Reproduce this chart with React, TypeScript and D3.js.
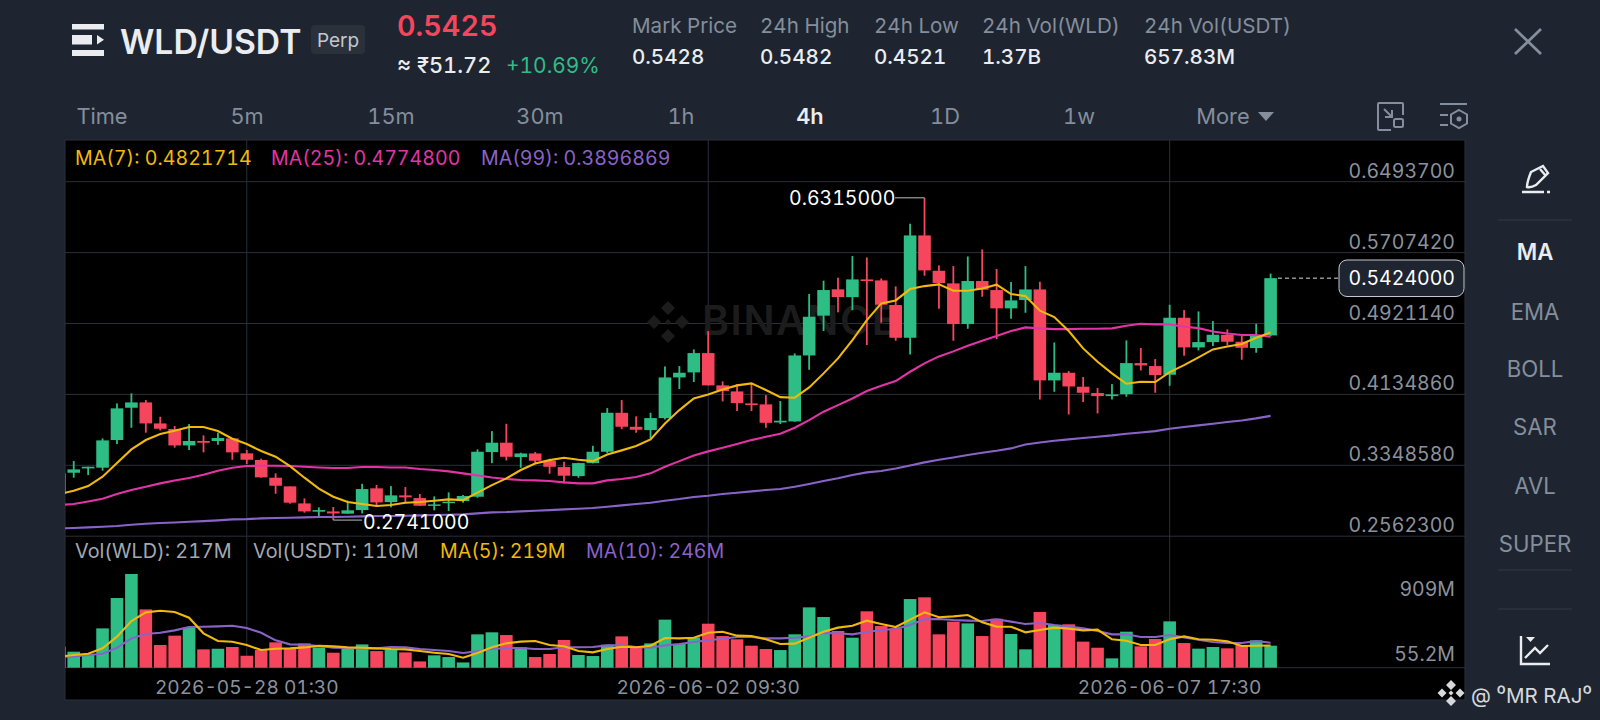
import * as d3 from "d3";

const FONT = "Inter, 'Noto Sans', sans-serif";
const BG = "#1e2530";
const UP = "#2ebd85";
const DOWN = "#f6465d";
const YELLOW = "#f0b90b";
const PINK = "#e234a6";
const PURPLE = "#8a63c9";
const MUTED = "#848e9c";
const GRID = "#2a2f3a";

const opens = [
  0.303, 0.3266, 0.3314, 0.3322, 0.3629, 0.3987, 0.4046, 0.3813, 0.3751, 0.3569, 0.3618,
  0.3618, 0.3647, 0.3481, 0.3407, 0.3211, 0.3115, 0.2926, 0.2834, 0.2837, 0.2812,
  0.2852, 0.3093, 0.2941, 0.3015, 0.2985, 0.29, 0.293, 0.2952, 0.3, 0.3495,
  0.3599, 0.344, 0.348, 0.3399, 0.3329, 0.3229, 0.3373, 0.3499, 0.3931, 0.3776,
  0.3739, 0.3872, 0.4323, 0.4379, 0.4593, 0.4235, 0.4168, 0.4035, 0.4024, 0.3824,
  0.3835, 0.4567, 0.5008, 0.53, 0.5214, 0.541, 0.5399, 0.5126, 0.4763, 0.5898,
  0.5506, 0.5366, 0.4915, 0.5392, 0.5292, 0.5089, 0.5181, 0.5299, 0.429, 0.4375,
  0.422, 0.415, 0.4116, 0.4138, 0.4482, 0.4449, 0.4353, 0.4985, 0.4656, 0.4715,
  0.4796, 0.4719, 0.4649, 0.4789,
];
const highs = [
  0.3259, 0.3396, 0.3333, 0.3647, 0.4035, 0.4146, 0.4072, 0.3887, 0.3784, 0.3806, 0.368,
  0.371, 0.3651, 0.3518, 0.3422, 0.3259, 0.3115, 0.2982, 0.2882, 0.2886, 0.2956,
  0.3144, 0.313, 0.3118, 0.3107, 0.303, 0.3004, 0.3048, 0.3019, 0.3525, 0.3728,
  0.3809, 0.3488, 0.3495, 0.3421, 0.3388, 0.3377, 0.3565, 0.3983, 0.4072, 0.3891,
  0.3931, 0.4445, 0.4449, 0.4634, 0.4837, 0.4279, 0.4249, 0.4257, 0.4127, 0.4061,
  0.4589, 0.5248, 0.5396, 0.5429, 0.5669, 0.5654, 0.5421, 0.5333, 0.6028, 0.6315,
  0.5565, 0.5558, 0.5665, 0.5743, 0.5525, 0.5381, 0.5558, 0.5384, 0.4711, 0.4394,
  0.4327, 0.4205, 0.4249, 0.4734, 0.4649, 0.4527, 0.5129, 0.507, 0.5055, 0.4948,
  0.4856, 0.4785, 0.4918, 0.5475,
];
const lows = [
  0.303, 0.3211, 0.324, 0.3289, 0.3584, 0.3765, 0.371, 0.3736, 0.3544, 0.3518, 0.3492,
  0.3577, 0.341, 0.3362, 0.3211, 0.3033, 0.2923, 0.2823, 0.2786, 0.2741, 0.2812,
  0.2815, 0.2908, 0.2882, 0.2926, 0.2897, 0.2849, 0.2841, 0.2934, 0.2989, 0.3373,
  0.3403, 0.3321, 0.3362, 0.3255, 0.3148, 0.3211, 0.3369, 0.3484, 0.375, 0.371,
  0.3647, 0.3857, 0.4194, 0.4272, 0.4235, 0.4057, 0.395, 0.395, 0.3765, 0.3806,
  0.3832, 0.4408, 0.4838, 0.5045, 0.507, 0.4682, 0.493, 0.473, 0.4578, 0.5451,
  0.5085, 0.473, 0.4863, 0.5218, 0.4748, 0.4974, 0.5041, 0.4079, 0.4164, 0.3913,
  0.405, 0.3924, 0.4079, 0.4109, 0.4401, 0.4153, 0.4231, 0.4564, 0.4623, 0.4671,
  0.4678, 0.4519, 0.4597, 0.4782,
];
const closes = [
  0.3259, 0.3303, 0.3333, 0.3625, 0.398, 0.4046, 0.3813, 0.3754, 0.3569, 0.3618, 0.3599,
  0.3651, 0.3492, 0.341, 0.3215, 0.3122, 0.2934, 0.2837, 0.2852, 0.2815, 0.2849,
  0.3085, 0.2937, 0.3015, 0.2993, 0.29, 0.2915, 0.2945, 0.3008, 0.3499, 0.3599,
  0.3443, 0.348, 0.3399, 0.3332, 0.3233, 0.3373, 0.3499, 0.3931, 0.3776, 0.3743,
  0.3872, 0.4323, 0.4375, 0.4593, 0.4235, 0.4172, 0.4039, 0.4016, 0.382, 0.3843,
  0.4567, 0.4996, 0.5292, 0.5215, 0.541, 0.5392, 0.5129, 0.4763, 0.5898, 0.551,
  0.537, 0.4915, 0.5392, 0.5296, 0.5089, 0.5177, 0.5299, 0.429, 0.4375, 0.4223,
  0.4153, 0.4116, 0.4135, 0.4482, 0.4456, 0.4349, 0.4985, 0.4656, 0.4715, 0.4796,
  0.4719, 0.4652, 0.4789, 0.5424,
];
const ma7 = [
  0.303, 0.3067, 0.3118, 0.3222, 0.3374, 0.3525, 0.3629, 0.3695, 0.3732, 0.3773,
  0.3773, 0.3728, 0.3643, 0.3584, 0.3507, 0.3444, 0.334, 0.3211, 0.3089, 0.3,
  0.2941, 0.2919, 0.2897, 0.2908, 0.2934, 0.2941, 0.2956, 0.2971, 0.2963, 0.3045,
  0.3129, 0.3203, 0.3296, 0.3369, 0.3406, 0.3432, 0.341, 0.3395, 0.3469, 0.3514,
  0.3562, 0.3636, 0.3813, 0.3961, 0.409, 0.4135, 0.419, 0.4235, 0.4257, 0.4183,
  0.4105, 0.4098, 0.4212, 0.4368, 0.4534, 0.4737, 0.4959,
  0.5144, 0.5177, 0.5303, 0.5336, 0.5355, 0.5285, 0.5285, 0.531, 0.5351, 0.5248,
  0.5225, 0.5063, 0.4992, 0.4837, 0.4645, 0.4497, 0.4368, 0.4253, 0.4275, 0.4272,
  0.4382, 0.446, 0.4545, 0.4634, 0.4667, 0.4693, 0.4763, 0.4822,
];
const ma25 = [
  0.2908, 0.2919, 0.2948, 0.2978, 0.303, 0.3074, 0.3111, 0.3148, 0.3181, 0.3207,
  0.3244, 0.3289, 0.3322, 0.334, 0.3344, 0.3344, 0.334, 0.3333, 0.3325, 0.3318,
  0.3318, 0.3329, 0.3329, 0.3325, 0.3325, 0.3307, 0.3296, 0.3281, 0.3259, 0.3237,
  0.3214, 0.3196, 0.3185, 0.3181, 0.3174, 0.3159, 0.3148, 0.3148, 0.3181, 0.3196,
  0.3218, 0.3259, 0.3332, 0.3395, 0.3458, 0.3503, 0.3543, 0.3584, 0.3628, 0.3665,
  0.3698, 0.3765, 0.385, 0.3943, 0.4016, 0.409, 0.4172,
  0.4231, 0.4283, 0.4386, 0.4479, 0.4556, 0.4612, 0.4675, 0.473, 0.4782, 0.4837,
  0.4878, 0.4867, 0.4859, 0.4859, 0.4863, 0.4863, 0.4867, 0.4896, 0.4918, 0.4911,
  0.4911, 0.4885, 0.487, 0.4833, 0.4811, 0.4793, 0.4793, 0.4775,
];
const ma99 = [
  0.2649, 0.2653, 0.266, 0.2667, 0.2675, 0.269, 0.2701, 0.2708, 0.2715, 0.2723,
  0.273, 0.2738, 0.2749, 0.2752, 0.276, 0.2764, 0.2767, 0.2771, 0.2775, 0.2775,
  0.2778, 0.2782, 0.2786, 0.2786, 0.2789, 0.2793, 0.2797, 0.28, 0.2804, 0.2815,
  0.2826, 0.283, 0.2838, 0.2845, 0.2852, 0.286, 0.2867, 0.2875, 0.2889, 0.2904,
  0.2919, 0.2934, 0.2956, 0.2974, 0.2997, 0.3011, 0.303, 0.3045, 0.3059, 0.3074,
  0.3085, 0.3111, 0.3141, 0.3174, 0.3204, 0.3241, 0.327,
  0.3285, 0.3314, 0.3347, 0.3381, 0.341, 0.3436, 0.3462, 0.3488, 0.351, 0.3536,
  0.358, 0.3602, 0.3621, 0.3636, 0.3651, 0.3665, 0.368, 0.3699, 0.3713, 0.3728,
  0.3754, 0.3773, 0.3791, 0.381, 0.3828, 0.3846, 0.3869, 0.3897,
];
// volume in millions
const volumes = [
  207, 158, 132, 388, 687, 924, 575, 224, 316, 394, 181, 187, 204, 118, 174, 250, 191, 240, 200, 148,
  187, 230, 164, 181, 151, 62, 122, 105, 52, 329, 349, 322, 201, 105, 135, 273, 125, 115, 227, 309,
  207, 240, 474, 234, 299, 434, 312, 280, 217, 184, 174, 329, 595, 500, 362, 296, 556, 411, 388, 677,
  694, 329, 454, 437, 312, 483, 332, 181, 549, 421, 428, 257, 197, 92, 355, 211, 283, 457, 243, 188,
  204, 191, 224, 270, 217,
];
const volMa5 = [
  108, 125, 138, 191, 306, 460, 546, 562, 549, 493, 339, 263, 256, 223, 174, 187, 191, 200, 217, 210,
  200, 197, 191, 184, 181, 164, 148, 135, 99, 146, 201, 240, 257, 263, 224, 211, 165, 151, 184, 207,
  201, 217, 293, 289, 296, 345, 355, 316, 312, 280, 234, 237, 296, 355, 395, 414, 464, 431, 401, 474,
  546, 497, 506, 520, 447, 405, 404, 349, 372, 395, 385, 368, 375, 280, 266, 224, 224, 280, 309, 280,
  276, 260, 214, 217, 219,
];
const volMa10 = [
  105, 112, 125, 138, 197, 289, 332, 345, 368, 401, 404, 408, 414, 391, 345, 270, 230, 227, 214, 197,
  194, 191, 191, 204, 200, 184, 174, 164, 145, 163, 184, 194, 194, 184, 184, 201, 201, 204, 220, 220,
  204, 197, 220, 234, 253, 270, 286, 303, 303, 289, 289, 296, 309, 342, 339, 329, 352, 372, 382, 421,
  477, 480, 470, 464, 460, 477, 454, 431, 441, 421, 405, 388, 362, 329, 329, 303, 303, 322, 299, 276,
  253, 243, 243, 263, 246,
];

const priceTicks = ["0.6493700", "0.5707420", "0.4921140", "0.4134860", "0.3348580", "0.2562300"];
const volTicks = ["909M", "55.2M"];
const timeTicks = [
  { index: 13, label: "2026-05-28 01:30" },
  { index: 45, label: "2026-06-02 09:30" },
  { index: 77, label: "2026-06-07 17:30" },
];
const tabs = ["Time", "5m", "15m", "30m", "1h", "4h", "1D", "1w", "More"];
const tabX = [102, 247, 391, 540, 681, 810, 945, 1079, 1223];
const stats = [
  ["Mark Price", "0.5428"],
  ["24h High", "0.5482"],
  ["24h Low", "0.4521"],
  ["24h Vol(WLD)", "1.37B"],
  ["24h Vol(USDT)", "657.83M"],
];
const statX = [632, 760, 874, 982, 1144];
const sideItems = ["MA", "EMA", "BOLL", "SAR", "AVL", "SUPER"];
const sideY = [251, 311, 368, 426, 485, 543];

const LEFT = 65;
const RIGHT = 1465;
const TOP = 140;
const BOTTOM = 700;
const VOL_BASE = 667.7;

const x = d3.scaleLinear().domain([0, 84]).range([59.3, 1270.6]);
const y = d3.scaleLinear().domain([0.64937, 0.25623]).range([181.7, 536.2]);
const yVol = d3.scaleLinear().domain([0, 924]).range([VOL_BASE, 574]);

const priceLine = d3.line<number>().x((_, i) => x(i)).y((d) => y(d));
const volLine = d3.line<number>().x((_, i) => x(i)).y((d) => yVol(d));

const BODY_W = 12.6;
const WICK_W = 1.8;
const LINE_W = 2.1;

function Label(props: any) {
  return (
    <text
      fontFamily={FONT}
      dominantBaseline="central"
      style={{ fontVariantNumeric: "tabular-nums" }}
      {...props}
    />
  );
}

export default function App() {
  const lastY = y(closes[closes.length - 1]);
  const hiIdx = highs.indexOf(d3.max(highs)!);
  const loIdx = lows.indexOf(d3.min(lows)!);

  return (
    <svg
      width={1600}
      height={720}
      viewBox="0 0 1600 720"
      style={{ position: "absolute", left: 0, top: 0, display: "block" }}
    >
      <defs>
        <clipPath id="plot">
          <rect x={LEFT} y={TOP} width={RIGHT - LEFT} height={BOTTOM - TOP} />
        </clipPath>
      </defs>
      <rect width={1600} height={720} fill={BG} />

      {/* header */}
      <g fill="#eaecef">
        <rect x={72} y={24} width={32} height={5.5} />
        <rect x={72} y={35} width={20} height={9.5} />
        <path d="M97 35 L104 39.7 L97 44.5 Z" />
        <rect x={72} y={50} width={32} height={6} />
      </g>
      <Label x={120} y={41} fill="#eaecef" fontSize={33.7} fontWeight={600}>WLD/USDT</Label>
      <rect x={311} y={25} width={54} height={29} rx={4} fill="#2b313b" />
      <Label x={338} y={40} fill="#c4c8ce" fontSize={19} textAnchor="middle">Perp</Label>
      <Label x={397} y={25} fill={DOWN} fontSize={28.7} fontWeight={600}>0.5425</Label>
      <Label x={397} y={65} fill="#eaecef" fontSize={21.8} fontWeight={500}>≈ ₹51.72</Label>
      <Label x={506} y={65} fill={UP} fontSize={20.9}>+10.69%</Label>
      {stats.map(([name, value], i) => (
        <g key={name}>
          <Label x={statX[i]} y={25} fill={MUTED} fontSize={20.6}>{name}</Label>
          <Label x={statX[i]} y={56} fill="#eaecef" fontSize={20.6} fontWeight={500}>{value}</Label>
        </g>
      ))}
      <path d="M1515 29 L1541 54 M1541 29 L1515 54" stroke={MUTED} strokeWidth={2.8} fill="none" />

      {/* interval tabs */}
      {tabs.map((t, i) => (
        <Label
          key={t}
          x={tabX[i]}
          y={116}
          fill={t === "4h" ? "#eaecef" : MUTED}
          fontWeight={t === "4h" ? 600 : 400}
          fontSize={21.8}
          textAnchor="middle"
        >
          {t}
        </Label>
      ))}
      <path d="M1258 112 L1274 112 L1266 121 Z" fill={MUTED} />
      <g fill="none" stroke={MUTED} strokeWidth={2}>
        <path d="M1391 130 H1379 Q1378 130 1378 129 V104 Q1378 103 1379 103 H1402 Q1403 103 1403 104 V115" />
        <rect x={1394} y={119} width={9} height={8} rx={1.5} />
        <path d="M1384 109 L1392 117 M1392 110 V117 H1385" />
        <path d="M1440 104 H1467 M1440 115 H1448 M1440 125 H1448" />
        <path d="M1459 110 L1467 114.5 V123.5 L1459 128 L1451 123.5 V114.5 Z" />
      </g>
      <circle cx={1459} cy={119} r={2.5} fill={MUTED} />

      {/* chart pane */}
      <rect x={LEFT} y={TOP} width={RIGHT - LEFT} height={BOTTOM - TOP} fill="#000" stroke="#2b313b" strokeWidth={1} />
      {priceTicks.map((t) => (
        <line key={t} x1={LEFT} x2={RIGHT} y1={y(+t)} y2={y(+t)} stroke={GRID} strokeWidth={1} />
      ))}
      <line x1={LEFT} x2={RIGHT} y1={VOL_BASE} y2={VOL_BASE} stroke={GRID} strokeWidth={1} />
      {timeTicks.map((t) => (
        <line key={t.label} x1={x(t.index)} x2={x(t.index)} y1={TOP} y2={VOL_BASE} stroke={GRID} strokeWidth={1} />
      ))}

      {/* watermark */}
      <g fill="#1c1c1c">
        <path d="M668 301 L675 308 L668 315 L661 308 Z M654 315 L661 322 L654 329 L647 322 Z M682 315 L689 322 L682 329 L675 322 Z M668 319 L671 322 L668 325 L665 322 Z M668 329 L675 336 L668 343 L661 336 Z" />
        <Label x={702} y={320} fontSize={41} fontWeight={600} letterSpacing={1.5}>BINANCE</Label>
      </g>

      <g clipPath="url(#plot)">
        {closes.map((c, i) => {
          const o = opens[i];
          const color = c >= o ? UP : DOWN;
          const top = y(Math.max(o, c));
          const bottom = y(Math.min(o, c));
          return (
            <g key={i}>
              <rect x={x(i) - WICK_W / 2} y={y(highs[i])} width={WICK_W} height={y(lows[i]) - y(highs[i])} fill={color} />
              <rect x={x(i) - BODY_W / 2} y={top} width={BODY_W} height={Math.max(bottom - top, 1.5)} fill={color} />
              <rect x={x(i) - BODY_W / 2} y={yVol(volumes[i])} width={BODY_W} height={VOL_BASE - yVol(volumes[i])} fill={color} />
            </g>
          );
        })}
        <path d={priceLine(ma99)!} fill="none" stroke={PURPLE} strokeWidth={LINE_W} />
        <path d={priceLine(ma25)!} fill="none" stroke={PINK} strokeWidth={LINE_W} />
        <path d={priceLine(ma7)!} fill="none" stroke={YELLOW} strokeWidth={LINE_W} />
        <path d={volLine(volMa10)!} fill="none" stroke={PURPLE} strokeWidth={LINE_W} />
        <path d={volLine(volMa5)!} fill="none" stroke={YELLOW} strokeWidth={LINE_W} />
      </g>

      {/* high / low callouts */}
      <path d={`M895 ${y(highs[hiIdx])} H${x(hiIdx)}`} stroke="#b7bdc6" strokeWidth={1} fill="none" />
      <Label x={789} y={y(highs[hiIdx])} fill="#fff" fontSize={19.5}>{highs[hiIdx].toFixed(7)}</Label>
      <path d={`M${x(loIdx)} ${y(lows[loIdx])} H362`} stroke="#b7bdc6" strokeWidth={1} fill="none" />
      <Label x={363} y={521.5} fill="#fff" fontSize={19.5}>{lows[loIdx].toFixed(7)}</Label>

      {/* legends */}
      <Label x={75} y={158} fill={YELLOW} fontSize={19.6}>MA(7): 0.4821714</Label>
      <Label x={271} y={158} fill={PINK} fontSize={19.6}>MA(25): 0.4774800</Label>
      <Label x={481} y={158} fill={PURPLE} fontSize={19.6}>MA(99): 0.3896869</Label>
      <Label x={75} y={551} fill="#a3a9b2" fontSize={19.8}>Vol(WLD): 217M</Label>
      <Label x={253} y={551} fill="#a3a9b2" fontSize={19.8}>Vol(USDT): 110M</Label>
      <Label x={440} y={551} fill={YELLOW} fontSize={19.6}>MA(5): 219M</Label>
      <Label x={586} y={551} fill={PURPLE} fontSize={19.6}>MA(10): 246M</Label>

      {/* axes text */}
      {priceTicks.map((t) => (
        <Label key={t} x={1455} y={y(+t) - 11} fill="#8b929d" fontSize={19.5} textAnchor="end">{t}</Label>
      ))}
      {volTicks.map((t, i) => (
        <Label key={t} x={1455} y={i === 0 ? 589 : 654} fill="#8b929d" fontSize={19.5} textAnchor="end">{t}</Label>
      ))}
      {timeTicks.map((t) => (
        <Label key={t.label} x={x(t.index)} y={687} fill="#8b929d" fontSize={19.1} textAnchor="middle">{t.label}</Label>
      ))}

      {/* last price */}
      <line x1={1278} x2={1338} y1={lastY} y2={lastY} stroke="#d5d8dc" strokeWidth={1} strokeDasharray="4 3" />
      <rect x={1339} y={260} width={125} height={36.5} rx={8} fill={BG} stroke="#c4c8ce" strokeWidth={1} />
      <Label x={1455} y={lastY} fill="#fff" fontSize={19.5} textAnchor="end">{closes[closes.length - 1].toFixed(7)}</Label>

      {/* right sidebar */}
      <g fill="none" stroke="#eaecef" strokeWidth={2.4}>
        <path d="M1531 172 L1543 166 L1548 173 L1536 185 Q1531 188 1527 187 Q1527 182 1531 172 Z" />
        <path d="M1540 169 L1546 176" />
        <path d="M1522 192 H1544 M1547 192 H1550" />
      </g>
      {[220, 570, 609].map((dy) => (
        <line key={dy} x1={1498} x2={1572} y1={dy} y2={dy} stroke="#333a45" strokeWidth={1} />
      ))}
      {sideItems.map((t, i) => (
        <Label
          key={t}
          x={1535}
          y={sideY[i]}
          fill={t === "MA" ? "#eaecef" : MUTED}
          fontWeight={t === "MA" ? 600 : 400}
          fontSize={22.2}
          textAnchor="middle"
        >
          {t}
        </Label>
      ))}
      <g fill="none" stroke="#eaecef" strokeWidth={2.4}>
        <path d="M1521 636 V664 H1550" />
        <path d="M1525 658 L1535 648 L1540 653 L1548 645" />
      </g>
      <path d="M1526 637 H1535 L1530.5 642 Z" fill="#eaecef" />

      {/* footer credit */}
      <g fill="#d5d8dc">
        <path d="M1451 680 L1456 685 L1451 690 L1446 685 Z M1451 696 L1456 701 L1451 706 L1446 701 Z M1442 688.5 L1446.5 693 L1442 697.5 L1437.5 693 Z M1460 688.5 L1464.5 693 L1460 697.5 L1455.5 693 Z M1451 690.5 L1453.5 693 L1451 695.5 L1448.5 693 Z" />
        <Label x={1471} y={695} fontSize={20.6}>@ ⁰MR RAJ⁰</Label>
      </g>
    </svg>
  );
}
